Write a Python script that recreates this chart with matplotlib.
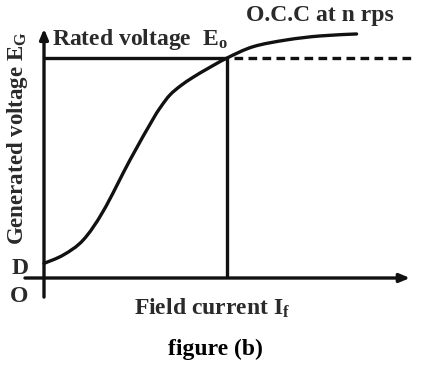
import matplotlib.pyplot as plt
import numpy as np
from matplotlib.path import Path
from matplotlib.patches import PathPatch

plt.rcParams['font.family'] = ['Liberation Serif', 'DejaVu Serif']
plt.rcParams['font.weight'] = 'bold'
plt.rcParams['mathtext.fontset'] = 'custom'
plt.rcParams['mathtext.rm'] = 'Liberation Serif:bold'
plt.rcParams['mathtext.it'] = 'Liberation Serif:bold'
plt.rcParams['mathtext.bf'] = 'Liberation Serif:bold'

# O.C.C. curve (field current, generated voltage)
field_current = [0.0, 0.53, 1.07, 1.62, 2.35, 2.98, 3.20, 3.44, 3.74, 4.08,
                 4.48, 5.00, 5.72, 6.63, 7.54, 8.54]
gen_voltage = [0.59, 0.93, 1.53, 2.70, 4.76, 6.41, 6.92, 7.38, 7.76, 8.10,
               8.45, 8.87, 9.33, 9.60, 9.76, 9.84]
rated_current = 5.0
rated_voltage = 8.89
dash_end = 10.1

W, H = 423, 385
fig = plt.figure(figsize=(W / 100, H / 100), dpi=100)
ax = fig.add_axes([0, 0, 1, 1])
ax.set_xlim(-44 / 36.6, (W - 44) / 36.6)
ax.set_ylim(-(H - 278) / 24.8, 278 / 24.8)
ax.axis('off')

ink = '#111111'
lw = 2.4

# axes with arrows
arrow = dict(arrowstyle='-|>,head_length=0.6,head_width=0.25',
             color=ink, lw=lw, shrinkA=0, shrinkB=0)
ax.annotate('', xy=(10.0, 0), xytext=(-0.52, 0), arrowprops=arrow)
ax.annotate('', xy=(0, 10.05), xytext=(0, -0.77), arrowprops=arrow)

# rated voltage lines
ax.plot([0, rated_current], [rated_voltage, rated_voltage], color=ink, lw=lw,
        solid_capstyle='butt')
ax.plot([rated_current, rated_current], [0, rated_voltage], color=ink, lw=lw,
        solid_capstyle='butt')
ax.plot([rated_current + 0.2, dash_end], [rated_voltage, rated_voltage],
        color=ink, lw=lw, ls=(0, (2.6, 1.6)))

# O.C.C curve: smooth Bezier through the read points (Catmull-Rom handles)
pts = ax.transData.transform(np.column_stack([field_current, gen_voltage]))
verts = [pts[0]]
codes = [Path.MOVETO]
for i in range(len(pts) - 1):
    p0 = pts[max(i - 1, 0)]
    p1, p2 = pts[i], pts[i + 1]
    p3 = pts[min(i + 2, len(pts) - 1)]
    verts += [p1 + (p2 - p0) / 6, p2 - (p3 - p1) / 6, p2]
    codes += [Path.CURVE4] * 3
verts = ax.transData.inverted().transform(np.array(verts))
ax.add_patch(PathPatch(Path(verts, codes), fill=False, edgecolor=ink, lw=lw,
                       capstyle='round', joinstyle='round'))

txt = '#2a2a2a'


def put(x, y, s, **kw):
    fig.text(x / W, 1 - y / H, s, color=kw.pop('color', txt), **kw)


fs = 17
put(246, 16, 'O.C.C at n rps', fontsize=fs, va='center', ha='left')
put(52, 39, r'Rated voltage  E$_{\mathregular{o}}$', fontsize=fs, va='center', ha='left')
put(212, 308, r'Field current I$_{\mathregular{f}}$', fontsize=fs, va='center', ha='center')
put(215, 349, 'figure (b)', fontsize=fs, va='center', ha='center', color='black')
put(20, 268, 'D', fontsize=fs, va='center', ha='center')
put(19, 297, 'O', fontsize=fs, va='center', ha='center')
put(18, 138, r'Generated voltage E$_{\mathregular{G}}$', fontsize=16.5, va='center',
    ha='center', rotation=90)

fig.savefig('out.png', dpi=100)
